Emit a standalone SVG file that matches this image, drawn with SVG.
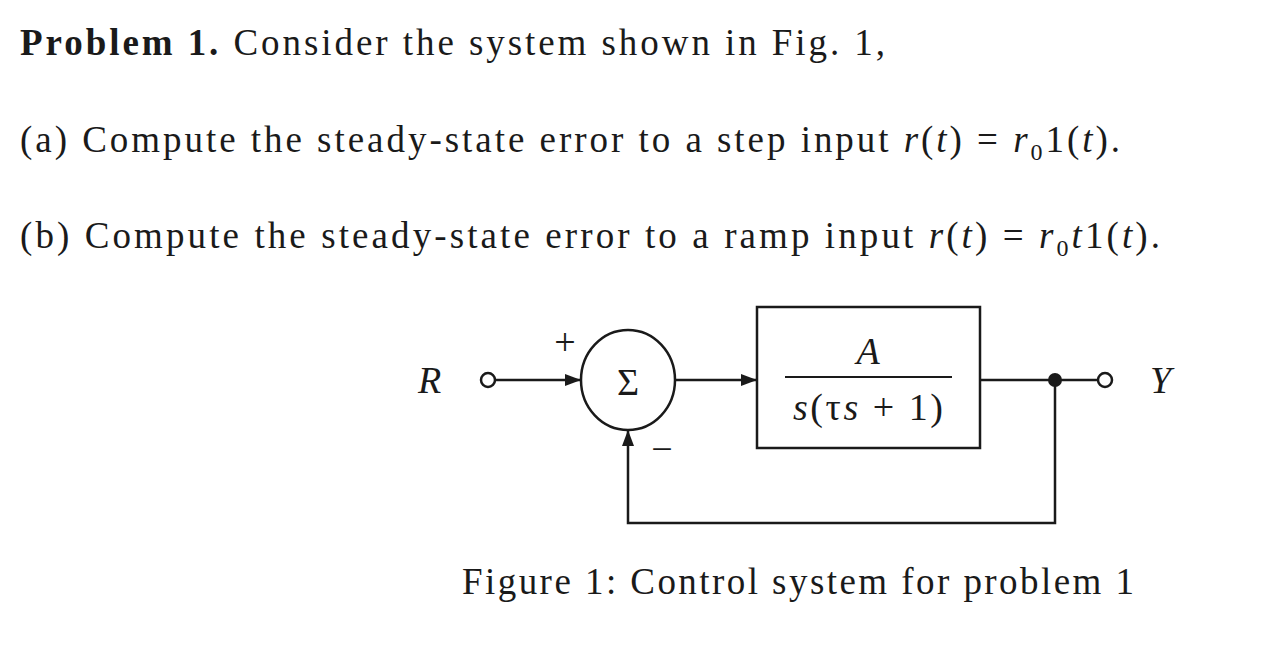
<svg xmlns="http://www.w3.org/2000/svg" width="1287" height="647" viewBox="0 0 1287 647">
<style>
.t{font-family:"Liberation Serif","DejaVu Serif",serif;font-size:37px;fill:#1a1a1a}
.d{font-family:"Liberation Serif","DejaVu Serif",serif;font-size:38px;fill:#1a1a1a}
.l{stroke:#1a1a1a;stroke-width:2.5;fill:none}
</style>
<defs><marker id="b" markerWidth="16" markerHeight="12" refX="15" refY="6" orient="auto" markerUnits="userSpaceOnUse"><path d="M0,0L16,6L0,12Z" fill="#1a1a1a"/></marker></defs>
<rect width="1287" height="647" fill="#fff"/>
<text class="t" x="20" y="55" textLength="865" lengthAdjust="spacing"><tspan font-weight="bold">Problem 1.</tspan> Consider the system shown in Fig. 1,</text>
<text class="t" x="20" y="152" textLength="1100" lengthAdjust="spacing">(a) Compute the steady-state error to a step input <tspan font-style="italic">r</tspan>(<tspan font-style="italic">t</tspan>) = <tspan font-style="italic">r</tspan><tspan font-size="24" dy="8">0</tspan><tspan dy="-8">1(</tspan><tspan font-style="italic">t</tspan>).</text>
<text class="t" x="20" y="248" textLength="1140" lengthAdjust="spacing">(b) Compute the steady-state error to a ramp input <tspan font-style="italic">r</tspan>(<tspan font-style="italic">t</tspan>) = <tspan font-style="italic">r</tspan><tspan font-size="24" dy="8">0</tspan><tspan dy="-8" font-style="italic">t</tspan>1(<tspan font-style="italic">t</tspan>).</text>
<g id="R"><text class="d" x="418" y="393" font-style="italic" font-size="40">R</text><circle cx="488" cy="380" r="7" class="l"/></g>
<g id="sum"><ellipse cx="628" cy="380" rx="47" ry="50" class="l"/><text class="d" x="628" y="395" text-anchor="middle" font-size="44">Σ</text>
<text class="d" x="565" y="355" text-anchor="middle" font-size="32">+</text><text class="d" x="662" y="462" text-anchor="middle" font-size="32">−</text></g>
<g id="G"><rect x="757" y="307" width="223" height="141" class="l"/><text class="d" x="868" y="364" text-anchor="middle" font-style="italic" font-size="40">A</text>
<line x1="785" y1="377" x2="952" y2="377" stroke="#1a1a1a" stroke-width="2"/>
<text class="d" x="868" y="420" text-anchor="middle" font-size="40" textLength="150" lengthAdjust="spacing"><tspan font-style="italic">s</tspan>(τ<tspan font-style="italic">s</tspan> + 1)</text></g>
<g id="Y"><circle cx="1105" cy="380" r="7" class="l"/><text class="d" x="1150" y="393" font-style="italic" font-size="40">Y</text></g>
<g id="connectors">
<line x1="495" y1="380" x2="580" y2="380" class="l" marker-end="url(#b)"/>
<line x1="675" y1="380" x2="756" y2="380" class="l" marker-end="url(#b)"/>
<line x1="980" y1="380" x2="1098" y2="380" class="l"/>
<circle cx="1055" cy="380" r="7" fill="#1a1a1a"/>
<polyline points="1055,380 1055,523 628,523 628,431" class="l" marker-end="url(#b)"/>
</g>
<text class="t" x="462" y="594" textLength="672" lengthAdjust="spacing">Figure 1: Control system for problem 1</text>
</svg>
